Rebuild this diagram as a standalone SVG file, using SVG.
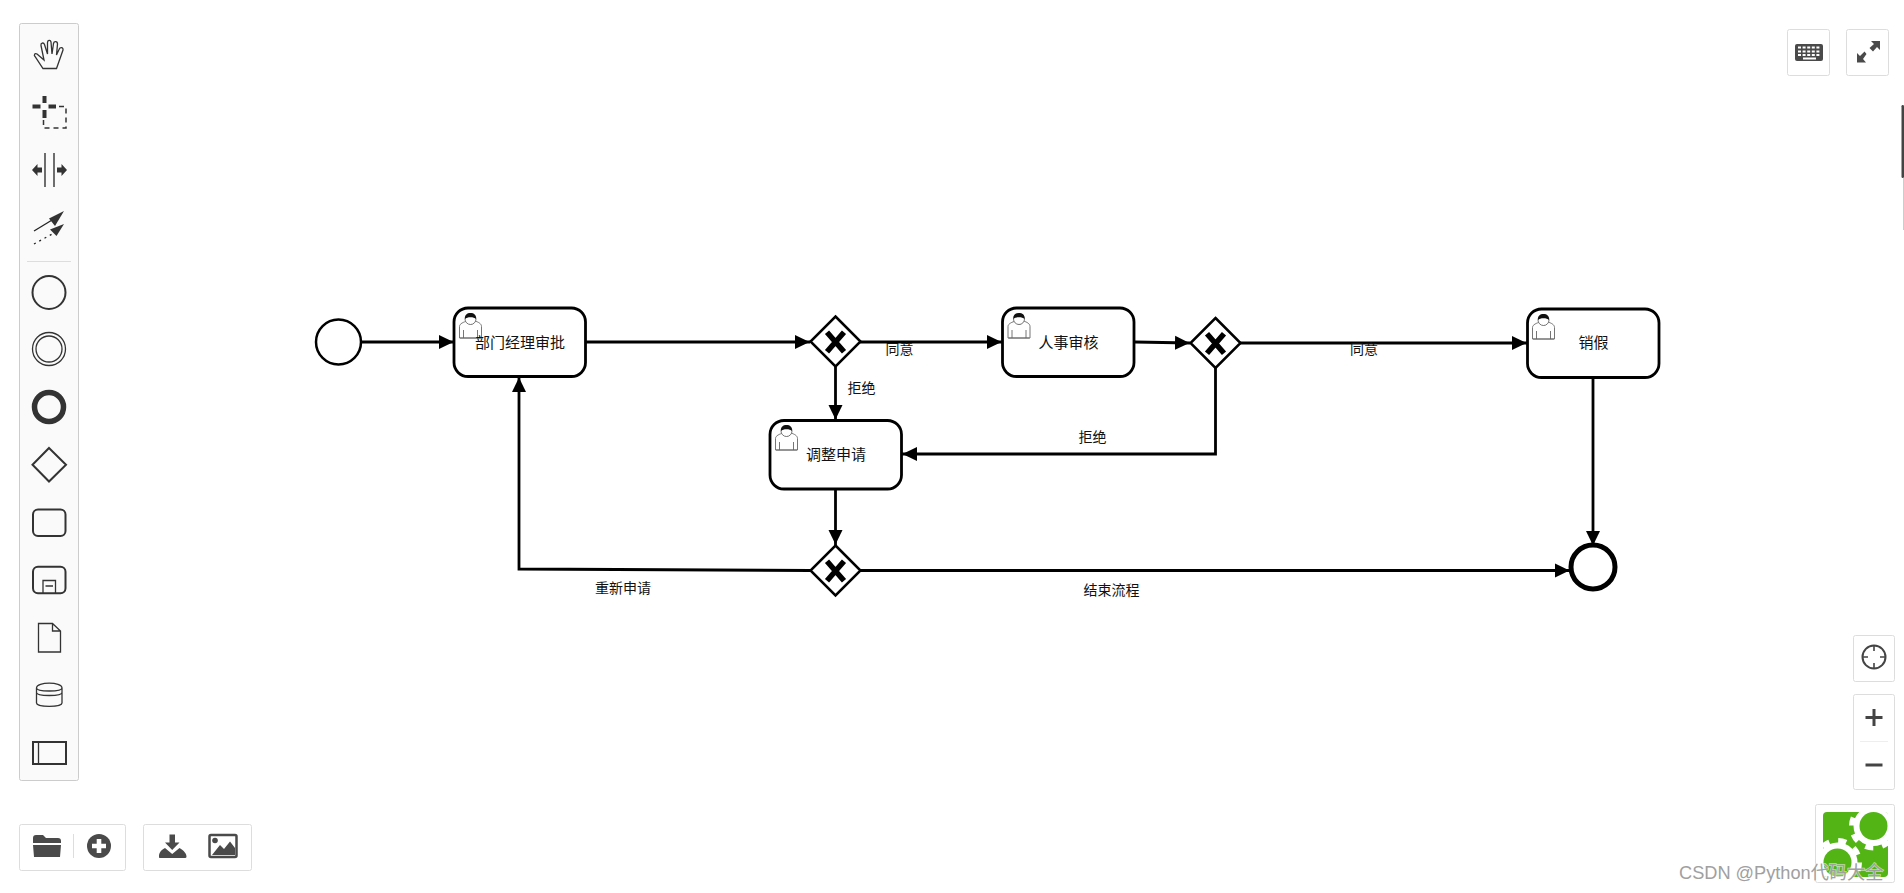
<svg xmlns="http://www.w3.org/2000/svg" width="1904" height="893" viewBox="0 0 1904 893">
<style>
text{font-family:"Liberation Sans","Noto Sans CJK SC",sans-serif;fill:#111}
.lb{font-size:14px;text-anchor:middle;dominant-baseline:central}
.tl{font-size:15px;text-anchor:middle;dominant-baseline:central}
.task{fill:#fff;stroke:#000;stroke-width:2.800}
.gw{fill:#fff;stroke:#000;stroke-width:2.500}
.x{fill:none;stroke:#000;stroke-width:5.500}
.edge{fill:none;stroke:#000;stroke-width:2.800;marker-end:url(#arrow)}
.pal{fill:#fafafa;stroke:#ccc;stroke-width:1}
.box{fill:#fff;stroke:#ddd;stroke-width:1}
.ic{fill:none;stroke:#333;stroke-width:2}
.th{stroke-width:1.300}
.fat{stroke-width:5.500}
.dk{fill:#4a4a4a;stroke:none}
.uh{fill:#fff;stroke:#666;stroke-width:.9}
</style>
<defs>
<marker id="arrow" markerUnits="userSpaceOnUse" markerWidth="15" markerHeight="16" refX="15" refY="8" orient="auto"><path d="M0 1L14.500 8L0 15Z" fill="#000"/></marker>
<g id="user">
<path class="uh" d="M0.500 25V13.500C0.500 10.500 5 9 8 8C10 12 14 12 16 8C19 9 22.500 10.500 22.500 13.500V25ZM4.500 25V17M18.500 25V17M1 25H22"/>
<circle class="uh" cx="11.500" cy="6" r="5.500"/>
<path d="M6 6C5.500 1 9 0 11.500 0C14 0 17.500 1 17 6C15 3.500 8 3.500 6 6Z" fill="#111"/>
</g>
<g id="xmark"><path class="x" d="M-8.500 -9.800L8.500 9.800M8.500 -9.800L-8.500 9.800"/></g>
<clipPath id="logoclip"><rect x="1823" y="812" width="65" height="65" rx="4"/></clipPath>
</defs>

<g id="palette">
<rect class="pal" x="19.500" y="23.500" width="59" height="757" rx="2"/>
<path d="M27 261.500H71" stroke="#ddd" fill="none"/>
<path class="ic th" d="M43 68.500H56.500L63 50C63.500 47 60 47 59 49.500L56.500 55L57.500 44C57.500 41 54 41 53.500 43.500L52 54L51 42C50.500 39.500 47.500 40 47.500 42.500L47.500 54L44.500 44.500C43.500 42 40.500 43 41 45.500L44 60L37 54C35 52.500 33.500 55 35 56.500Z"/>
<path d="M42.500 96H46.500V103H42.500ZM42.500 110H46.500V118H42.500ZM32.500 104.500H40.500V108.500H32.500ZM48.500 104.500H56V108.500H48.500Z" fill="#333"/>
<path fill="none" stroke="#333" stroke-width="1.500" stroke-dasharray="5 4" d="M59 106.500H66V128H43.500V120"/>
<path d="M45 153V187M54 153V187" stroke="#555" stroke-width="1.700" fill="none"/>
<path d="M32 170L37.500 164V167.500H42V172.500H37.500V176ZM67 170L61.500 164V167.500H57V172.500H61.500V176Z" fill="#333"/>
<path d="M34 231L57 217" stroke="#222" stroke-width="1.300" fill="none"/>
<path d="M64 211L49 218.500L55 226Z" fill="#333"/>
<path d="M34 244L54 233" stroke="#222" stroke-width="1.300" stroke-dasharray="2 4" fill="none"/>
<path d="M64 224L50 229.500L56.500 236Z" fill="#333"/>
<circle class="ic" cx="49" cy="292.500" r="16.500"/>
<circle class="ic th" cx="49" cy="349" r="16.500"/>
<circle class="ic th" cx="49" cy="349" r="13"/>
<circle class="ic fat" cx="49" cy="407" r="14.500"/>
<path class="ic" d="M49 448L66 464.700L49 481.500L32.500 464.700Z"/>
<rect class="ic" x="33" y="509.500" width="32.500" height="26.500" rx="5"/>
<rect class="ic" x="33" y="566.700" width="32.500" height="26.500" rx="5"/>
<path class="ic th" d="M43 593V580.500H55.500V593M45.500 586H53"/>
<path class="ic th" d="M38.500 623.500H52.500L60.500 631V652H38.500ZM52.500 623.500V631H60.500"/>
<path class="ic th" d="M36.500 688C36.500 681.500 62 681.500 62 688V703C62 707.500 36.500 707.500 36.500 703ZM36.500 688C36.500 692 62 692 62 688M36.500 692.500C36.500 696.500 62 696.500 62 692.500"/>
<rect class="ic" x="33" y="742" width="33" height="22"/>
<path class="ic th" d="M38.500 742V764"/>
</g>

<g id="filebar">
<rect class="box" x="19.500" y="824.500" width="106" height="46" rx="2"/>
<rect class="box" x="143.500" y="824.500" width="108" height="46" rx="2"/>
<path class="dk" d="M33 843V838C33 836 34 835 36 835H43L46 838H58C60 838 61 839 61 841V843ZM33 845H61L60 857H34Z"/>
<path d="M73.500 834V858" stroke="#ddd" fill="none"/>
<circle class="dk" cx="99" cy="846" r="12"/>
<path d="M96.700 839H101.300V843.700H106V848.300H101.300V853H96.700V848.300H92V843.700H96.700Z" fill="#fff"/>
<path class="dk" d="M169.500 834.500H175V842.500H179.500L172.200 850L165 842.500H169.500ZM159 857C159 853 160 851 165 848L172.200 854L179.500 848C184 851 186.500 853 186.500 857C186.500 857.500 186 858 184 858H161C159.500 858 159 858 159 857Z"/>
<rect x="209.500" y="835" width="27" height="22" rx="1.500" fill="none" stroke="#4a4a4a" stroke-width="2.500"/>
<circle class="dk" cx="215" cy="840.500" r="2.800"/>
<path class="dk" d="M212 855L220 845L224 849L230 841.500L235 848V855Z"/>
</g>

<g id="topright">
<rect class="box" x="1787.500" y="29.500" width="42" height="46" rx="2"/>
<rect class="box" x="1846.500" y="29.500" width="42" height="46" rx="2"/>
<rect x="1795" y="44" width="28" height="17" rx="2" fill="#4a4a4a"/>
<path d="M1798 47.500h22M1798 51.500h22M1798 55h22" stroke="#fff" stroke-width="2" stroke-dasharray="3 1.600" fill="none"/>
<path d="M1803 58.500h13" stroke="#fff" stroke-width="2" fill="none"/>
<path class="dk" d="M1880 41V50L1877 47L1873 51.500L1869.500 48L1874 44L1871 41ZM1857 62.500V53L1860 56L1864.500 51.500L1866.500 54L1863 59L1866 62.500Z"/>
<rect x="1901.500" y="105" width="2.500" height="73" rx="1.200" fill="#444"/>
<path d="M1903.500 178V230" stroke="#ccc" fill="none"/>
</g>

<g id="zoom">
<rect class="box" x="1853.500" y="635.500" width="41" height="46" rx="2"/>
<circle cx="1874" cy="657" r="11.500" fill="none" stroke="#444" stroke-width="2"/>
<path d="M1874 645V651M1874 663V669M1862 657H1868M1880 657H1886" stroke="#444" stroke-width="1.600" fill="none"/>
<rect class="box" x="1853.500" y="694.500" width="41" height="95" rx="2"/>
<path d="M1860 741.500H1888" stroke="#eee" fill="none"/>
<path d="M1865.500 717.500H1882.500M1874 709V726" stroke="#444" stroke-width="3" fill="none"/>
<path d="M1865.500 765H1882.500" stroke="#444" stroke-width="3" fill="none"/>
</g>

<g id="logo">
<rect class="box" x="1815.500" y="804.500" width="79" height="78" rx="2"/>
<g clip-path="url(#logoclip)">
<rect x="1823" y="812" width="65" height="65" fill="#52b415"/>
<circle cx="1873.500" cy="826" r="20" fill="#fff"/>
<circle cx="1873.500" cy="826" r="21.500" fill="none" stroke="#fff" stroke-width="6" stroke-dasharray="8 8.900"/>
<path d="M1862 812H1888V835H1876Z" fill="#fff"/>
<circle cx="1873.500" cy="826" r="14" fill="#52b415"/>
<circle cx="1837.500" cy="862.500" r="20" fill="#fff"/>
<circle cx="1837.500" cy="862.500" r="21.500" fill="none" stroke="#fff" stroke-width="6" stroke-dasharray="8 8.900"/>
<circle cx="1837.500" cy="862.500" r="14" fill="#52b415"/>
</g>
</g>

<g id="start"><circle cx="338.500" cy="342" r="22.500" fill="#fff" stroke="#000" stroke-width="2.500"/></g>

<g id="task-approve">
<rect class="task" x="454" y="308" width="131.500" height="68.500" rx="14"/>
<use href="#user" x="459" y="313"/>
<text class="tl" x="520" y="342">部门经理审批</text>
</g>
<g id="gw1">
<path class="gw" d="M835.500 316.500L860.500 341.500L835.500 366.500L810.500 341.500Z"/>
<use href="#xmark" x="835.500" y="342"/>
</g>
<g id="task-hr">
<rect class="task" x="1002.500" y="308" width="131.500" height="68.500" rx="14"/>
<use href="#user" x="1007.500" y="313"/>
<text class="tl" x="1068.500" y="342">人事审核</text>
</g>
<g id="gw2">
<path class="gw" d="M1215.500 318L1240.500 343L1215.500 368L1190.500 343Z"/>
<use href="#xmark" x="1215.500" y="343.500"/>
</g>
<g id="task-adjust">
<rect class="task" x="770" y="420.500" width="131.500" height="68.500" rx="14"/>
<use href="#user" x="775" y="425"/>
<text class="tl" x="836" y="454">调整申请</text>
</g>
<g id="gw3">
<path class="gw" d="M835.500 545.500L860.500 570.500L835.500 595.500L810.500 570.500Z"/>
<use href="#xmark" x="835.500" y="571"/>
</g>
<g id="task-cancel">
<rect class="task" x="1527.500" y="309" width="131.500" height="68.500" rx="14"/>
<use href="#user" x="1532" y="314"/>
<text class="tl" x="1593.500" y="342.500">销假</text>
</g>
<g id="end"><circle cx="1593" cy="567" r="22" fill="#fff" stroke="#000" stroke-width="5"/></g>

<g id="connectors">
<path class="edge" d="M361 342H454"/>
<path class="edge" d="M586 342H810"/>
<path class="edge" d="M860 342H1002"/>
<path class="edge" d="M1135 342L1190 343"/>
<path class="edge" d="M1240 343H1527"/>
<path class="edge" d="M835.500 367V420"/>
<path class="edge" d="M1215.500 368V454H902"/>
<path class="edge" d="M835.500 489V545"/>
<path class="edge" d="M810 570.500L519 569V377"/>
<path class="edge" d="M860 570.500H1570"/>
<path class="edge" d="M1593 378V546"/>
</g>

<g id="labels">
<text class="lb" x="899.500" y="349">同意</text>
<text class="lb" x="861.500" y="388">拒绝</text>
<text class="lb" x="1092.500" y="437">拒绝</text>
<text class="lb" x="1364" y="349">同意</text>
<text class="lb" x="623" y="588">重新申请</text>
<text class="lb" x="1111.500" y="590">结束流程</text>
</g>

<text id="watermark" x="1679" y="879" font-size="18.200" style="fill:#a0a0a0;paint-order:stroke;stroke:#fff;stroke-width:1.500px;stroke-opacity:.6">CSDN @Python代码大全</text>
</svg>
